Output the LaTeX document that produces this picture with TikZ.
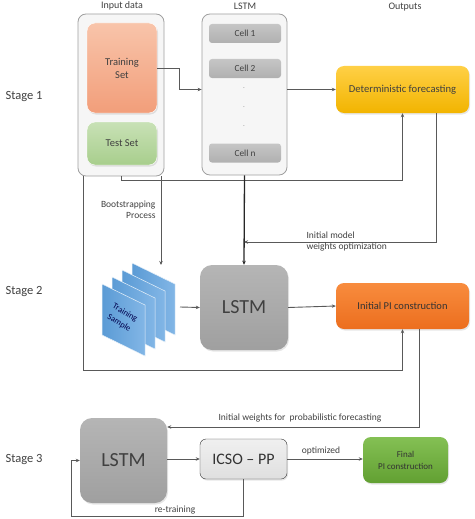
\documentclass[tikz,border=0pt]{standalone}
\usepackage{fontspec}
\setmainfont{Carlito}
\usetikzlibrary{arrows.meta,positioning,calc,shadows}
\definecolor{linegray}{RGB}{89,89,89}
\definecolor{txtgray}{RGB}{64,64,64}
\definecolor{salmontop}{RGB}{248,196,170}
\definecolor{salmonbot}{RGB}{242,158,122}
\definecolor{greentop}{RGB}{200,225,182}
\definecolor{greenbot}{RGB}{168,206,140}
\definecolor{goldtop}{RGB}{255,208,70}
\definecolor{goldbot}{RGB}{242,180,0}
\definecolor{orangetop}{RGB}{248,140,62}
\definecolor{orangebot}{RGB}{236,110,30}
\definecolor{finaltop}{RGB}{132,192,84}
\definecolor{finalbot}{RGB}{98,160,50}
\definecolor{sheetblue}{RGB}{91,155,213}
\definecolor{sheetlight}{RGB}{130,182,230}

\begin{document}
\begin{tikzpicture}[x=1pt,y=-1pt,
  >={Stealth[length=4pt,width=3.5pt]},
  conn/.style={->,draw=linegray,line width=0.9pt},
  panel/.style={draw=gray!75,fill=gray!7,rounded corners=8pt,line width=0.8pt},
  block/.style={rounded corners=8pt,align=center,text=txtgray,
    drop shadow={opacity=0.2,shadow xshift=1pt,shadow yshift=-1.5pt}},
  cellbox/.style={rounded corners=3pt,top color=gray!45,bottom color=gray!62,
    minimum width=72pt,minimum height=19pt,font=\fontsize{9.3}{10}\selectfont,text=txtgray},
  bigtxt/.style={font=\fontsize{20}{22}\selectfont},
  head/.style={font=\fontsize{10}{11}\selectfont,text=txtgray},
  stage/.style={font=\fontsize{12.5}{14}\selectfont,text=txtgray,anchor=west},
  note/.style={font=\fontsize{9.5}{11}\selectfont,text=txtgray}]
  \useasboundingbox (0,0) rectangle (474,519);

  % stage 1
  \node[stage] (st1) at (2,97) {Stage 1};
  \node[head] (hin) at (122,6) {Input data};
  \node[head] (hlstm) at (245,6) {LSTM};
  \node[head] (hout) at (405,7) {Outputs};

  \node[panel,minimum width=86pt,minimum height=162pt] (inputbox) at (121,95) {};
  \node[block,draw=white,top color=salmontop,bottom color=salmonbot,
    minimum width=70pt,minimum height=90pt,font=\fontsize{10.5}{13}\selectfont] (trainset) at (122,68) {Training\\Set};
  \node[block,draw=white,top color=greentop,bottom color=greenbot,
    minimum width=70pt,minimum height=43pt,font=\fontsize{10.5}{13}\selectfont] (testset) at (122,143.5) {Test Set};

  \node[panel,minimum width=85pt,minimum height=161pt] (lstmbox) at (244.5,94.5) {};
  \node[cellbox] (cell1) at (245,33.5) {Cell 1};
  \node[cellbox] (cell2) at (245,68.5) {Cell 2};
  \node[cellbox] (celln) at (245,153) {Cell n};
  \foreach \yy in {88,107,126}
    \node[text=gray,font=\scriptsize] at (244,\yy) {.};

  \node[block,top color=goldtop,bottom color=goldbot,minimum width=133pt,minimum height=47pt,
    font=\fontsize{10.6}{12}\selectfont,text=black!75] (det) at (402.5,89.5) {Deterministic forecasting};

  \draw[conn] (trainset.east) -- (179,68) |- (lstmbox.west |- det.west);
  \draw[conn] (lstmbox.east |- det.west) -- (det.west);
  \draw[conn] (inputbox.south) -- (121,180) -| (det.south);

  % stage 2
  \node[stage] (st2) at (2,292) {Stage 2};
  \coordinate (bootstart) at (161,176);
  \coordinate (bootend) at (161,265);
  \coordinate (leftstart) at (83,176);

  \foreach \k in {3,2,1,0}
    \draw[draw=white!85!sheetblue,left color=sheetblue,right color=sheetlight,line width=0.5pt]
      ($(102,284)+(10*\k,-7*\k)$) -- ($(145,305)+(10*\k,-7*\k)$)
      -- ($(145,356)+(10*\k,-7*\k)$) -- ($(102,335)+(10*\k,-7*\k)$) -- cycle;
  \node[rotate=-30,align=center,font=\fontsize{8.5}{12}\selectfont,text=black!70!blue] (sample) at (122,318) {Training\\Sample};
  \coordinate (sampleout) at (180,307);

  \node[block,top color=gray!58,bottom color=gray!75,rounded corners=12pt,
    minimum width=88pt,minimum height=85pt,bigtxt] (lstm2) at (244,307.5) {LSTM};
  \node[block,top color=orangetop,bottom color=orangebot,minimum width=133pt,minimum height=46pt,
    font=\fontsize{10.5}{12}\selectfont,text=black!80] (initpi) at (402.5,306) {Initial PI construction};

  \draw[conn] (bootstart) -- (bootend);
  \node[note,align=right,anchor=east] (bootlbl) at (159,210) {Bootstrapping\\Process};
  \draw[->,line width=1.3pt,draw=black!85] (lstmbox.south) -- (lstm2.north);
  \draw[conn] ($(det.south)+(33.5,0)$) |- (244,242);
  \node[note,align=left,anchor=west] (optlbl) at (303,242) {Initial model\\weights optimization};
  \draw[conn] (sampleout) -- (lstm2.west);
  \draw[conn] (lstm2.east) -- (initpi.west);
  \draw[conn] (leftstart) -- (83,370) -| (initpi.south);

  % stage 3
  \node[stage] (st3) at (2,460) {Stage 3};
  \node[block,top color=gray!58,bottom color=gray!75,rounded corners=12pt,
    minimum width=87pt,minimum height=85pt,bigtxt] (lstm3) at (123.5,460.5) {LSTM};
  \node[block,draw=gray!40!black,top color=gray!12,bottom color=gray!25,rounded corners=6pt,
    minimum width=87pt,minimum height=40pt,font=\fontsize{16}{18}\selectfont,text=black!80] (icso) at (243.5,459) {ICSO -- PP};
  \node[block,top color=finaltop,bottom color=finalbot,minimum width=85pt,minimum height=46pt,
    font=\fontsize{9}{12}\selectfont,text=black!80] (final) at (405.5,460) {Final\\PI construction};

  \draw[conn] ($(initpi.south)+(16.5,0)$) |- (lstm3.east |- 0,427);
  \node[note] (wlbl) at (300,418) {Initial weights for\ \ probabilistic forecasting};
  \draw[conn] (lstm3.east |- icso.west) -- (icso.west);
  \draw[conn] (icso.east) -- (final.west |- icso.east);
  \node[note] (optim) at (321,451) {optimized};
  \draw[conn] (icso.south) -- (243.5,516) -| (71,460.5) -- (lstm3.west);
  \node[note] (retrain) at (175,510) {re-training};
\end{tikzpicture}
\end{document}
